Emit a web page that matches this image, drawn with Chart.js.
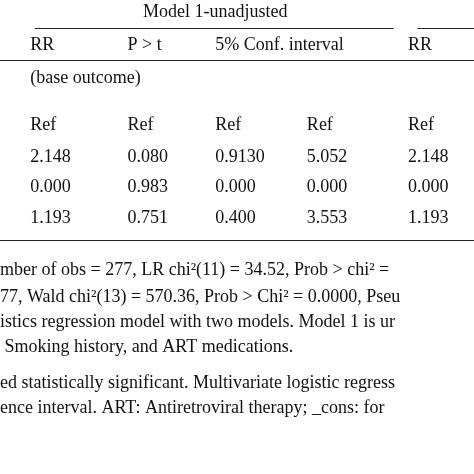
<!DOCTYPE html>
<html>
<head>
<meta charset="utf-8">
<script src="https://cdn.jsdelivr.net/npm/chart.js@4"></script>
<style>
html, body { margin: 0; padding: 0; background: #fff; }
#wrap { width: 474px; height: 474px; }
</style>
</head>
<body>
<div id="wrap"><canvas id="tableChart"></canvas></div>
<script>
// Table content
const groupTitle = 'Model 1-unadjusted';
const headers = ['RR', 'P > t', '5% Conf. interval', '', 'RR'];
const baseRow = ['(base outcome)'];
const rows = [
    ['Ref', 'Ref', 'Ref', 'Ref', 'Ref'],
    ['2.148', '0.080', '0.9130', '5.052', '2.148'],
    ['0.000', '0.983', '0.000', '0.000', '0.000'],
    ['1.193', '0.751', '0.400', '3.553', '1.193']
];
const notes = [
    'mber of obs = 277, LR chi\u00b2(11) = 34.52, Prob > chi\u00b2 =',
    '77, Wald chi\u00b2(13) = 570.36, Prob > Chi\u00b2 = 0.0000, Pseu',
    'istics regression model with two models. Model 1 is ur',
    ' Smoking history, and ART medications.',
    'ed statistically significant. Multivariate logistic regress',
    'ence interval. ART: Antiretroviral therapy; _cons: for'
];

// column index (x scale) and row index in table units (y scale)
const colX = [0, 1.03, 1.96, 2.93, 4];
const headerRow = 0.88;
const baseRowY = 1.85;
const dataRowY = [3.24, 4.18, 5.06, 5.97];
const noteRowY = [7.5, 8.29, 9.03, 9.76, 10.82, 11.56];

const points = [];
rows.forEach((r, ri) => r.forEach((v, ci) => points.push({ x: colX[ci], y: dataRowY[ri], t: v })));
headers.forEach((v, ci) => { if (v) points.push({ x: colX[ci], y: headerRow, t: v }); });
points.push({ x: colX[0], y: baseRowY, t: baseRow[0] });

const tablePlugin = {
    id: 'tableText',
    afterDatasetsDraw(chart) {
        const ctx = chart.ctx;
        const xs = chart.scales.x, ys = chart.scales.y;
        ctx.save();
        ctx.fillStyle = '#111';
        ctx.font = '18px "Liberation Serif", "DejaVu Serif", serif';
        ctx.textBaseline = 'middle';
        ctx.textAlign = 'left';
        chart.data.datasets[0].data.forEach(p => {
            ctx.fillText(p.t, xs.getPixelForValue(p.x), ys.getPixelForValue(p.y));
        });
        ctx.textAlign = 'center';
        ctx.fillText(groupTitle, xs.getPixelForValue(1.96), ys.getPixelForValue(-0.09));
        ctx.textAlign = 'left';
        notes.forEach((n, i) => ctx.fillText(n, xs.getPixelForValue(-0.32), ys.getPixelForValue(noteRowY[i])));
        // rules
        ctx.strokeStyle = '#222';
        ctx.lineWidth = 1;
        const rule = (x0, x1, y) => {
            const py = Math.round(ys.getPixelForValue(y)) + 0.5;
            ctx.beginPath();
            ctx.moveTo(xs.getPixelForValue(x0), py);
            ctx.lineTo(xs.getPixelForValue(x1), py);
            ctx.stroke();
        };
        rule(0.05, 3.85, 0.38);
        rule(4.1, 4.7, 0.38);
        rule(-0.32, 4.7, 1.32);
        rule(-0.32, 4.7, 6.62);
        ctx.restore();
    }
};

new Chart(document.getElementById('tableChart').getContext('2d'), {
    type: 'scatter',
    data: { datasets: [{ data: points, pointRadius: 0 }] },
    options: {
        responsive: true,
        maintainAspectRatio: false,
        animation: false,
        layout: { padding: 0 },
        plugins: { legend: { display: false }, tooltip: { enabled: false } },
        scales: {
            x: { type: 'linear', min: -0.32, max: 4.7, display: false },
            y: { type: 'linear', min: -0.45, max: 13.5, reverse: true, display: false }
        }
    },
    plugins: [tablePlugin]
});
</script>
</body>
</html>
